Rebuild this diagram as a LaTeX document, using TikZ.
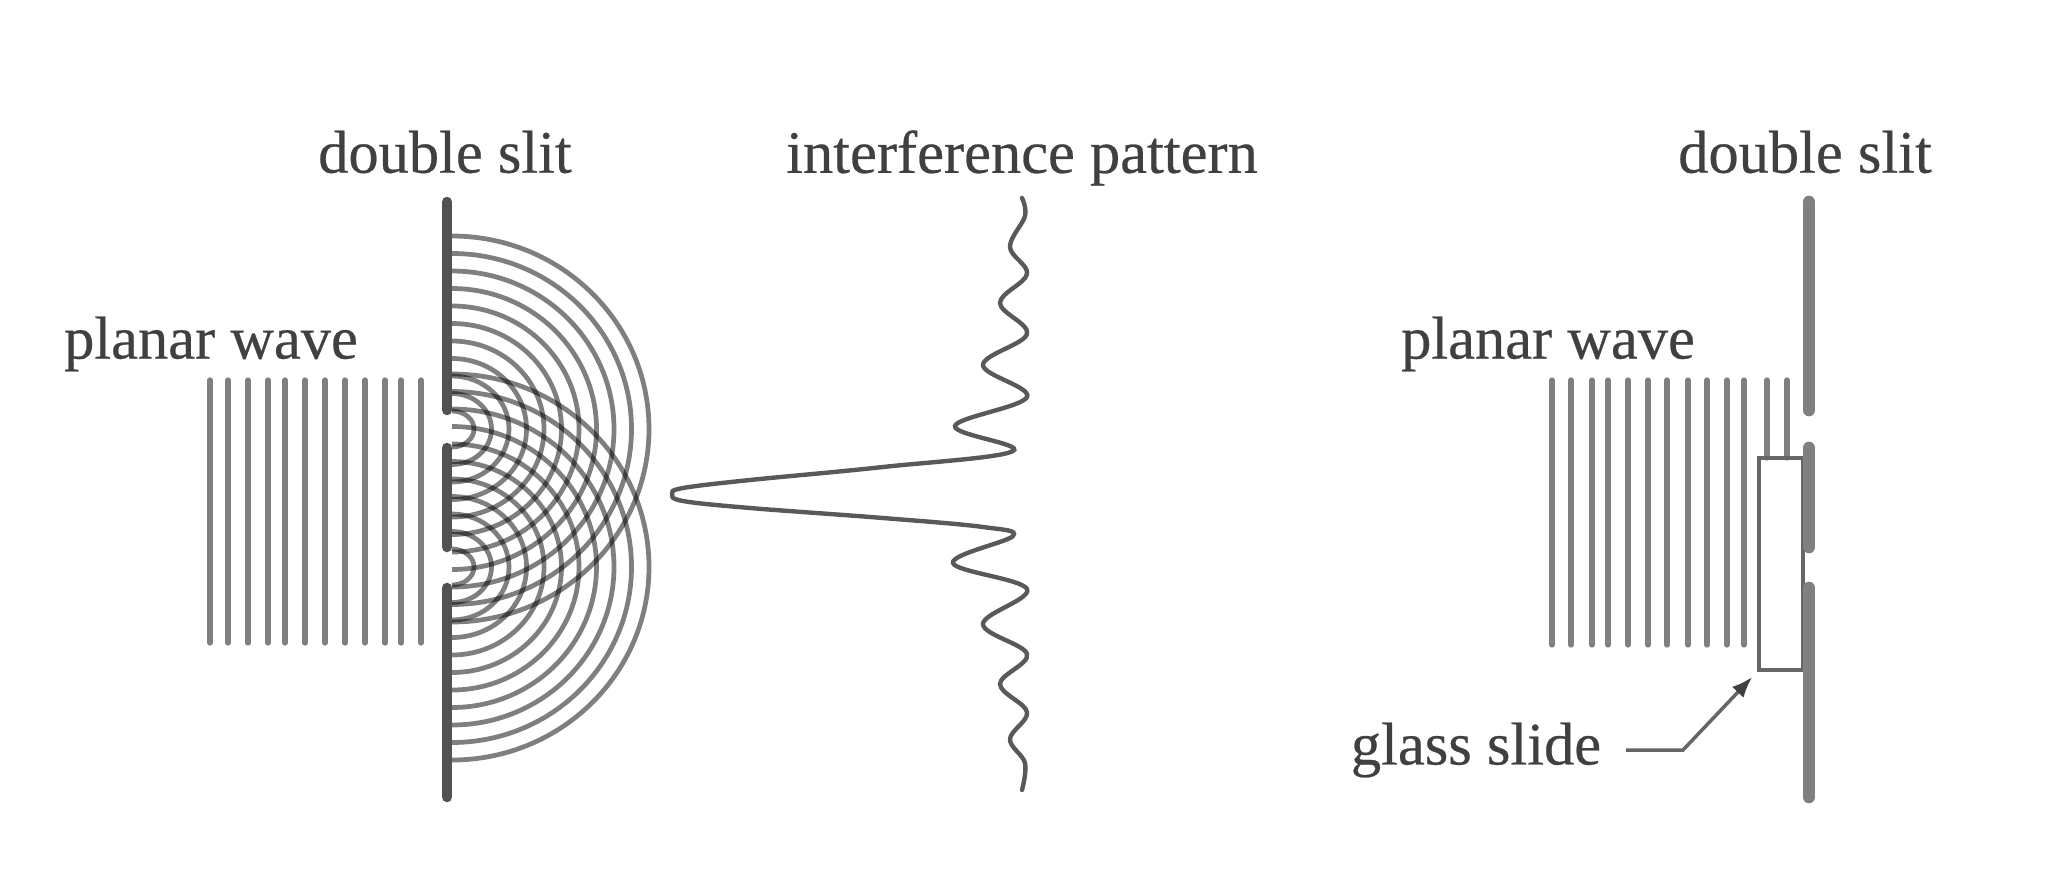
\documentclass[tikz,border=0pt]{standalone}
\usepackage{fontspec}
\setmainfont[FakeBold=0.4]{Liberation Serif}
\usetikzlibrary{positioning,arrows.meta}
\tikzset{
  label text/.style={text=black!75,font=\fontsize{17.2}{20}\selectfont,inner sep=0pt},
  plane line/.style={line width=1.5pt,black!50,line cap=round},
  ring line/.style={line width=1.35pt,black,opacity=0.5},
  left wall/.style={line width=3pt,black!68,line cap=round},
  right wall/.style={line width=3.6pt,black!50,line cap=round},
  fringe line/.style={line width=1.25pt,black!65,line cap=round}
}
\begin{document}
\begin{tikzpicture}
\useasboundingbox (0,0) rectangle (20.46,8.82);
\node[label text] (slitA) at (4.45,7.30) {double slit};
\node[label text] (planeA) at (2.11,5.38) {planar wave};
\node[label text] (fringe) at (10.22,7.24) {interference pattern};
\node[label text] (slitB) at (18.05,7.30) {double slit};
\node[label text] (planeB) at (15.48,5.38) {planar wave};
\node[label text] (glass) at (14.76,1.32) {glass slide};
\foreach \x in {0,.18,.38,.58,.75,.95,1.15,1.35,1.55,1.75,1.91,2.11}
  \draw[plane line] (2.10+\x,5.02) -- (2.10+\x,2.39);
\foreach \r in {.18,.355,.53,.705,.88,1.055,1.23,1.405,1.58,1.755,1.93} {
  \draw[ring line] (4.52,4.53) ++(0,\r) arc[start angle=90,end angle=-90,x radius=\r+.04,y radius=\r];
  \draw[ring line] (4.52,3.15) ++(0,\r) arc[start angle=90,end angle=-90,x radius=\r+.04,y radius=\r];
}
\draw[left wall] (4.47,6.80) -- (4.47,4.72);
\draw[left wall] (4.47,4.34) -- (4.47,3.35);
\draw[left wall] (4.47,2.94) -- (4.47,.85);
\draw[fringe line] plot[smooth,tension=.6] coordinates {
  (10.22,6.84) (10.25,6.66) (10.10,6.35) (10.27,6.08) (10.00,5.79) (10.27,5.48)
  (9.83,5.17) (10.27,4.85) (9.55,4.56) (10.13,4.31) (8.83,4.15) (7.50,4.02)
  (6.83,3.94) (6.72,3.88) (6.83,3.81) (7.50,3.74) (8.83,3.64) (9.83,3.55) (10.13,3.46)
  (9.53,3.19) (10.27,2.93) (9.83,2.58) (10.27,2.28) (10.00,1.98) (10.27,1.70)
  (10.10,1.43) (10.25,1.19) (10.22,.92)};
\foreach \x in {0,.19,.40,.56,.76,.96,1.15,1.36,1.55,1.75,1.92}
  \draw[plane line] (15.52+\x,5.02) -- (15.52+\x,2.37);
\foreach \x in {2.15,2.35}
  \draw[plane line] (15.52+\x,5.02) -- (15.52+\x,4.24);
\node[draw=black!60,line width=1pt,minimum width=.44cm,minimum height=2.12cm,inner sep=0pt] (slide) at (17.81,3.18) {};
\draw[right wall] (18.09,6.80) -- (18.09,4.72);
\draw[right wall] (18.09,4.34) -- (18.09,3.35);
\draw[right wall] (18.09,2.94) -- (18.09,.85);
\coordinate[right=.24cm of glass] (leadstart);
\coordinate (bend) at (16.83,1.32);
\draw[line width=1pt,black!60,-{Latex[length=6pt,width=4.5pt,black!75]},shorten >=2pt] (leadstart |- bend) -- (bend) -- (slide.south west);
\end{tikzpicture}
\end{document}
